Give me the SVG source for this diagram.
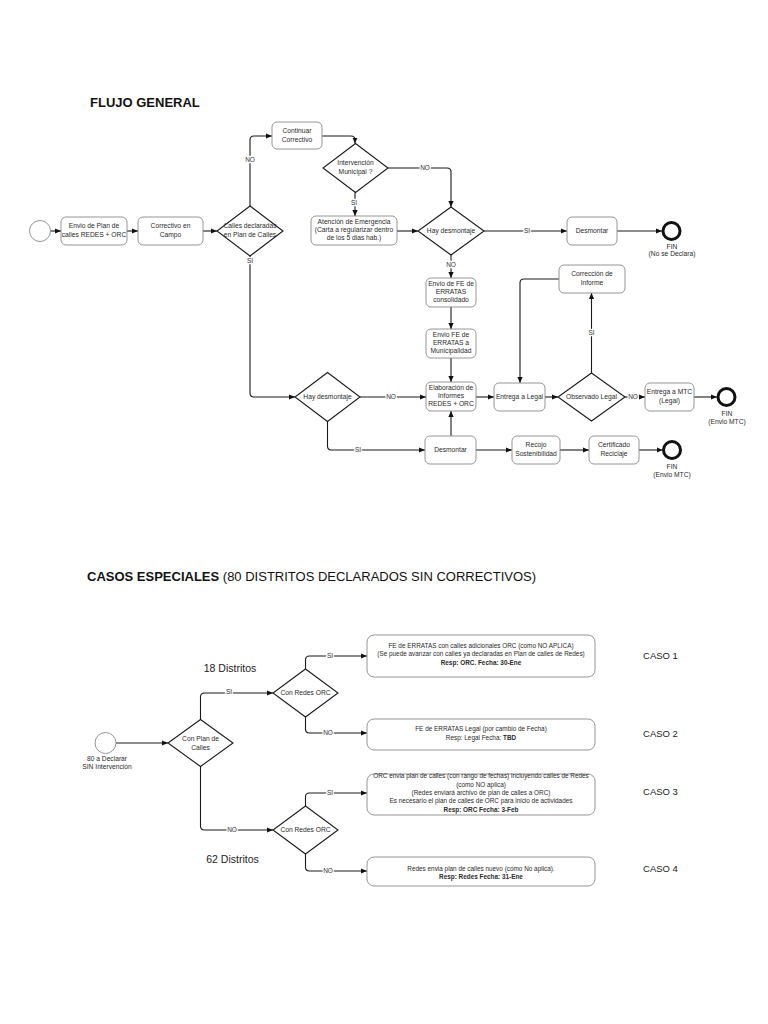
<svg xmlns="http://www.w3.org/2000/svg" width="768" height="1024" viewBox="0 0 768 1024">
<style>
text{font-family:"Liberation Sans",Arial,sans-serif;fill:#2a2a2a;text-anchor:middle}
.t{font-size:6.7px}
.bt{font-size:6.4px}
.b{font-weight:bold}
.h{font-size:13px;font-weight:bold;fill:#111;text-anchor:start}
.hn{font-weight:normal}
.caso{font-size:9.5px;fill:#222}
.dist{font-size:10.5px;fill:#222}
.box{fill:#fff;stroke:#8a8a8a;stroke-width:0.9}
.dia{fill:#fff;stroke:#1a1a1a;stroke-width:1.1}
.start{fill:#fff;stroke:#8a8a8a;stroke-width:0.9}
.end{fill:#fff;stroke:#111;stroke-width:3}
.c{fill:none;stroke:#1a1a1a;stroke-width:1.1;marker-end:url(#ah)}
.lbl{font-size:6.5px;fill:#333;stroke:#fff;stroke-width:2.5;paint-order:stroke}
</style>
<defs>
<marker id="ah" markerUnits="userSpaceOnUse" markerWidth="6" markerHeight="6" refX="6" refY="3" orient="auto">
<path d="M0,0.4 L6,3 L0,5.6 z" fill="#111"/>
</marker>
</defs>
<rect width="768" height="1024" fill="#fff"/>

<text class="h" x="90" y="107">FLUJO GENERAL</text>
<text class="h" x="87" y="581">CASOS ESPECIALES <tspan class="hn">(80 DISTRITOS DECLARADOS SIN CORRECTIVOS)</tspan></text>

<g id="connectors">
<path class="c" d="M50.5,231 L61,231"/>
<path class="c" d="M127,231 L138,231"/>
<path class="c" d="M203,231 L217,231"/>
<path class="c" d="M250,206 L250,140 Q250,136 254,136 L272,136"/>
<path class="c" d="M250,256 L250,393 Q250,397 254,397 L295,397"/>
<path class="c" d="M322,136 L351,136 Q355,136 355,140 L355,143.5"/>
<path class="c" d="M388,168 L447,168 Q451,168 451,172 L451,207"/>
<path class="c" d="M355,192.5 L355,216"/>
<path class="c" d="M397,231 L418,231"/>
<path class="c" d="M484,231 L567,231"/>
<path class="c" d="M617,231 L662,231"/>
<path class="c" d="M451,255 L451,278"/>
<path class="c" d="M451,307 L451,329"/>
<path class="c" d="M451,358 L451,382"/>
<path class="c" d="M360,397 L426,397"/>
<path class="c" d="M327.5,421.5 L327.5,446 Q327.5,450 331.5,450 L425,450"/>
<path class="c" d="M451,436 L451,411"/>
<path class="c" d="M476,397 L494,397"/>
<path class="c" d="M476,450 L512,450"/>
<path class="c" d="M560,450 L589,450"/>
<path class="c" d="M639,450 L662.5,450"/>
<path class="c" d="M545,397 L558,397"/>
<path class="c" d="M625,397 L645,397"/>
<path class="c" d="M591.5,373 L591.5,293"/>
<path class="c" d="M559,279 L524,279 Q520,279 520,283 L520,383"/>
<path class="c" d="M694,397 L717,397"/>

<path class="c" d="M116,743 L168,743"/>
<path class="c" d="M200.5,719.5 L200.5,697 Q200.5,693 204.5,693 L273,693"/>
<path class="c" d="M305.5,669 L305.5,660 Q305.5,656 309.5,656 L367,656"/>
<path class="c" d="M305.5,717 L305.5,729 Q305.5,733 309.5,733 L367,733"/>
<path class="c" d="M200.5,766.5 L200.5,826 Q200.5,830 204.5,830 L273,830"/>
<path class="c" d="M305.5,806 L305.5,797 Q305.5,793 309.5,793 L367,793"/>
<path class="c" d="M305.5,854 L305.5,867 Q305.5,871 309.5,871 L367,871"/>

<text class="lbl" x="250" y="162">NO</text>
<text class="lbl" x="250" y="263">SI</text>
<text class="lbl" x="425" y="170">NO</text>
<text class="lbl" x="354" y="205">SI</text>
<text class="lbl" x="527" y="233">SI</text>
<text class="lbl" x="451" y="267">NO</text>
<text class="lbl" x="391" y="399">NO</text>
<text class="lbl" x="358" y="452">SI</text>
<text class="lbl" x="633" y="399">NO</text>
<text class="lbl" x="591.5" y="335">SI</text>
<text class="lbl" x="229" y="694">SI</text>
<text class="lbl" x="330" y="658">SI</text>
<text class="lbl" x="328" y="735">NO</text>
<text class="lbl" x="232" y="832">NO</text>
<text class="lbl" x="330" y="795">SI</text>
<text class="lbl" x="328" y="873">NO</text>
</g>

<g id="start1"><circle class="start" cx="40" cy="231" r="10.5"/></g>
<g id="envio-plan"><rect class="box" x="61" y="217" width="66" height="28" rx="5"/>
<text class="t" x="94" y="228">Envio de Plan de</text><text class="t" x="94" y="237">calles REDES + ORC</text></g>
<g id="correctivo"><rect class="box" x="138" y="217" width="65" height="28" rx="5"/>
<text class="t" x="170.5" y="228">Correctivo en</text><text class="t" x="170.5" y="237">Campo</text></g>
<g id="calles-declaradas"><polygon class="dia" points="250,206 283,231 250,256 217,231"/>
<text class="t" x="250" y="227.5">Calles declaradas</text><text class="t" x="250" y="236.5">en Plan de Calles</text></g>
<g id="continuar"><rect class="box" x="272" y="122" width="50" height="27" rx="5"/>
<text class="t" x="297" y="133">Continuar</text><text class="t" x="297" y="142">Correctivo</text></g>
<g id="intervencion"><polygon class="dia" points="355.5,143.5 388,168 355.5,192.5 323,168"/>
<text class="t" x="355.5" y="165">Intervención</text><text class="t" x="355.5" y="174">Municipal ?</text></g>
<g id="atencion"><rect class="box" x="311" y="216" width="86" height="29" rx="5"/>
<text class="t" x="354" y="223.5">Atención de Emergencia</text><text class="t" x="354" y="231.5">(Carta a regularizar dentro</text><text class="t" x="354" y="239.5">de los 5 dias hab.)</text></g>
<g id="hay-desmontaje-1"><polygon class="dia" points="451,207 484,231 451,255 418,231"/>
<text class="t" x="451" y="233.3">Hay desmontaje</text></g>
<g id="desmontar-1"><rect class="box" x="567" y="217" width="50" height="28" rx="5"/>
<text class="t" x="592" y="233.3">Desmontar</text></g>
<g id="fin-1"><circle class="end" cx="671.5" cy="231" r="8.5"/>
<text class="t" x="672" y="249">FIN</text><text class="t" x="672" y="256">(No se Declara)</text></g>
<g id="envio-fe-consolidado"><rect class="box" x="426" y="278" width="50" height="29" rx="5"/>
<text class="t" x="451" y="285.5">Envio de FE de</text><text class="t" x="451" y="293.5">ERRATAS</text><text class="t" x="451" y="301.5">consolidado</text></g>
<g id="envio-fe-municipalidad"><rect class="box" x="426" y="329" width="50" height="29" rx="5"/>
<text class="t" x="451" y="336.5">Envio FE de</text><text class="t" x="451" y="344.5">ERRATAS a</text><text class="t" x="451" y="352.5">Municipalidad</text></g>
<g id="correccion"><rect class="box" x="559" y="265" width="66" height="28" rx="5"/>
<text class="t" x="592" y="276">Corrección de</text><text class="t" x="592" y="285">Informe</text></g>
<g id="hay-desmontaje-2"><polygon class="dia" points="327.5,372.5 360,397 327.5,421.5 295,397"/>
<text class="t" x="327.5" y="399.3">Hay desmontaje</text></g>
<g id="elaboracion"><rect class="box" x="426" y="382" width="50" height="29" rx="5"/>
<text class="t" x="451" y="389.5">Elaboración de</text><text class="t" x="451" y="397.5">Informes</text><text class="t" x="451" y="405.5">REDES + ORC</text></g>
<g id="entrega-legal"><rect class="box" x="494" y="383" width="51" height="28" rx="5"/>
<text class="t" x="519.5" y="399.3">Entrega a Legal</text></g>
<g id="observado-legal"><polygon class="dia" points="591.5,373 625,397 591.5,421 558,397"/>
<text class="t" x="591.5" y="399.3">Observado Legal</text></g>
<g id="entrega-mtc"><rect class="box" x="645" y="383" width="49" height="28" rx="5"/>
<text class="t" x="669.5" y="394">Entrega a MTC</text><text class="t" x="669.5" y="403">(Legal)</text></g>
<g id="fin-2"><circle class="end" cx="726.5" cy="397" r="8.5"/>
<text class="t" x="727" y="415.5">FIN</text><text class="t" x="727" y="423.5">(Envio MTC)</text></g>
<g id="desmontar-2"><rect class="box" x="425" y="436" width="51" height="28" rx="5"/>
<text class="t" x="450.5" y="452.3">Desmontar</text></g>
<g id="recojo"><rect class="box" x="512" y="436" width="48" height="28" rx="5"/>
<text class="t" x="536" y="447">Recojo</text><text class="t" x="536" y="456">Sostenibilidad</text></g>
<g id="certificado"><rect class="box" x="589" y="436" width="50" height="28" rx="5"/>
<text class="t" x="614" y="447">Certificado</text><text class="t" x="614" y="456">Reciclaje</text></g>
<g id="fin-3"><circle class="end" cx="672" cy="450" r="8.5"/>
<text class="t" x="672" y="469">FIN</text><text class="t" x="672" y="477">(Envio MTC)</text></g>

<g id="start2"><circle class="start" cx="105.5" cy="743" r="10.5"/>
<text class="t" x="107" y="760.5">80 a Declarar</text><text class="t" x="107" y="769">SIN Intervención</text></g>
<g id="con-plan"><polygon class="dia" points="200.5,719.5 233,743 200.5,766.5 168,743"/>
<text class="t" x="200.5" y="740.5">Con Plan de</text><text class="t" x="200.5" y="749.5">Calles</text></g>
<g id="con-redes-1"><polygon class="dia" points="305.5,669 338,693 305.5,717 273,693"/>
<text class="t" x="305.5" y="695.3">Con Redes ORC</text></g>
<g id="con-redes-2"><polygon class="dia" points="305.5,806 338,830 305.5,854 273,830"/>
<text class="t" x="305.5" y="832.3">Con Redes ORC</text></g>
<g id="caso1-box"><rect class="box" x="367" y="635" width="228" height="42" rx="7"/>
<text class="bt" x="481" y="648.3">FE de ERRATAS con calles adicionales ORC (como NO APLICA)</text>
<text class="bt" x="481" y="656.3">(Se puede avanzar con calles ya declaradas en Plan de calles de Redes)</text>
<text class="bt b" x="481" y="664.6">Resp: ORC. Fecha: 30-Ene</text></g>
<g id="caso2-box"><rect class="box" x="367" y="719" width="228" height="31" rx="7"/>
<text class="bt" x="481" y="731.3">FE de ERRATAS Legal (por cambio de Fecha)</text>
<text class="bt" x="481" y="739.6">Resp: Legal Fecha: <tspan class="b">TBD</tspan></text></g>
<g id="caso3-box"><rect class="box" x="367" y="774" width="228" height="41" rx="7"/>
<text class="bt" x="481" y="778.3">ORC envia plan de calles (con rango de fechas) incluyendo calles de Redes</text>
<text class="bt" x="481" y="786.6">(como NO aplica)</text>
<text class="bt" x="481" y="794.9">(Redes enviará archivo de plan de calles a ORC)</text>
<text class="bt" x="481" y="803.2">Es necesario el plan de calles de ORC para inicio de actividades</text>
<text class="bt b" x="481" y="811.5">Resp: ORC Fecha: 3-Feb</text></g>
<g id="caso4-box"><rect class="box" x="367" y="857" width="228" height="29" rx="7"/>
<text class="bt" x="481" y="870.6">Redes envia plan de calles nuevo (como No aplica).</text>
<text class="bt b" x="481" y="878.6">Resp: Redes Fecha: 31-Ene</text></g>

<text class="caso" x="660.5" y="658.5">CASO 1</text>
<text class="caso" x="660.5" y="736.5">CASO 2</text>
<text class="caso" x="660.5" y="795">CASO 3</text>
<text class="caso" x="660.5" y="871.5">CASO 4</text>
<text class="dist" x="230" y="671.5">18 Distritos</text>
<text class="dist" x="232.5" y="862.5">62 Distritos</text>
</svg>
